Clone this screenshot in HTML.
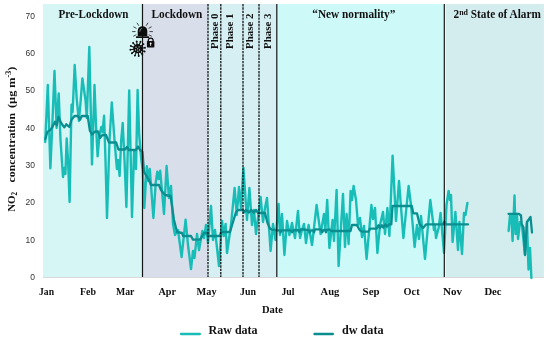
<!DOCTYPE html>
<html lang="en">
<head>
<meta charset="utf-8">
<title>NO2 concentration 2020</title>
<style>
html,body{margin:0;padding:0;background:#fff;}
body{width:550px;height:341px;overflow:hidden;}
svg{display:block;}
.sb{font-family:"Liberation Serif",serif;font-weight:bold;fill:#111;}
.tk{font-family:"Liberation Sans",sans-serif;font-size:9.3px;fill:#333;}
</style>
</head>
<body>
<svg width="550" height="341" viewBox="0 0 550 341">
<rect x="0" y="0" width="550" height="341" fill="#ffffff"/>
<rect x="43" y="4" width="99.5" height="273.4" fill="#d6f6f6"/>
<rect x="142.5" y="4" width="65.5" height="273.4" fill="#d9dfea"/>
<rect x="208" y="4" width="68.8" height="273.4" fill="#d5eff3"/>
<rect x="276.8" y="4" width="167.5" height="273.4" fill="#cdfaf9"/>
<rect x="445.6" y="4" width="98.3" height="273.4" fill="#d3edee"/>
<line x1="43" y1="277.5" x2="544" y2="277.5" stroke="#d9d9d9" stroke-width="1"/>
<g fill="none" stroke-linejoin="round" stroke-linecap="round">
<polyline stroke="#18bdb7" stroke-width="2.4" points="45.2,142.0 47.8,85.0 50.4,168.4 52.5,120.0 54.5,71.0 56.6,128.0 58.7,93.5 60.5,140.0 63.0,177.0 64.2,168.0 65.4,174.0 66.7,138.5 68.0,160.0 69.6,202.0 71.5,104.7 72.6,112.0 74.7,65.0 76.8,100.0 78.9,121.0 80.4,104.0 82.4,78.4 85.5,100.0 86.8,118.0 89.3,47.0 92.0,164.4 94.5,85.0 96.0,125.0 97.6,156.4 99.5,135.0 101.3,127.0 102.5,132.0 104.1,115.8 105.5,160.0 107.0,218.0 109.5,140.0 111.8,102.5 114.5,140.0 116.9,169.0 118.0,160.0 119.6,176.0 121.2,140.0 122.7,123.0 124.5,160.0 126.4,207.0 129.2,90.5 132.0,217.0 134.0,152.0 136.0,169.0 137.6,90.0 139.2,135.0 141.2,159.0 142.9,171.0 144.3,208.0 146.8,166.3 148.3,181.0 149.8,169.0 153.4,218.0 155.8,182.0 157.3,171.7 158.7,179.0 160.2,170.8 164.0,214.0 166.6,166.0 169.0,198.0 171.0,186.0 173.0,224.0 175.0,235.0 178.0,230.0 181.6,257.0 185.6,219.6 188.0,245.0 191.0,269.0 193.0,251.0 194.5,258.0 197.0,234.0 199.0,250.0 202.4,231.0 204.0,238.0 206.0,225.0 208.0,243.0 211.0,206.0 213.0,240.0 215.0,230.0 219.0,266.0 222.0,221.0 223.8,236.0 225.6,224.0 227.0,253.0 231.0,225.0 234.6,188.0 236.8,215.0 239.0,187.0 241.0,208.0 243.4,168.0 247.0,220.0 249.4,188.0 252.0,225.0 254.0,210.0 256.0,234.0 260.6,197.0 263.0,222.0 265.0,208.0 267.0,198.0 270.6,251.0 273.0,224.0 275.5,240.0 278.6,204.0 280.0,235.0 282.0,214.0 284.4,255.0 287.0,221.0 289.4,235.0 292.0,223.0 295.0,238.0 298.0,211.0 300.0,238.0 302.0,230.0 304.0,224.0 306.0,243.0 308.6,225.0 312.0,245.0 314.0,228.0 316.6,205.0 320.6,234.0 324.0,214.0 325.4,230.0 327.2,200.0 329.4,248.0 332.6,220.0 334.0,241.0 336.6,190.0 338.6,266.0 343.0,194.0 345.0,247.0 346.6,214.0 348.6,244.0 350.6,191.0 352.0,200.0 353.6,186.0 356.0,200.0 358.0,225.0 360.0,218.0 362.0,237.0 364.0,226.0 366.6,259.0 371.4,205.0 373.0,219.0 375.0,208.0 377.4,253.0 380.0,225.0 383.0,212.0 385.0,234.0 387.4,208.0 389.4,236.0 392.6,155.6 396.0,221.0 399.0,181.0 403.4,238.0 408.6,186.0 411.0,205.0 414.6,247.0 417.0,225.0 419.0,239.0 421.0,216.0 425.0,259.0 430.3,200.0 434.0,230.0 435.0,226.0 436.0,238.0 438.6,228.0 440.6,213.0 444.0,253.0 446.5,205.0 448.6,191.0 450.0,200.0 451.0,195.0 452.6,242.0 455.4,212.0 458.0,250.0 459.4,222.0 462.0,254.0 464.0,213.0 465.5,215.0 467.4,203.0"/>
<polyline stroke="#18bdb7" stroke-width="2.4" points="508.6,231.0 510.0,215.0 511.2,214.0 512.6,241.0 514.5,195.5 515.6,234.0 517.0,214.0 518.0,239.0 520.0,222.0 522.0,226.0 525.0,255.0 527.0,222.0 528.5,269.5 530.0,248.0 531.4,278.0"/>
<polyline stroke="#0a8e8f" stroke-width="2.3" points="45.4,139.0 47.4,131.8 49.7,130.6 52.0,127.6 55.0,121.8 56.8,125.3 58.4,117.0 61.3,123.3 64.3,127.4 66.3,124.3 69.3,127.0 71.5,119.8 74.5,116.0 78.0,116.0 80.0,119.8 81.8,116.0 87.7,116.0 89.9,130.8 92.0,134.5 95.0,131.5 98.0,131.5 100.0,138.0 102.3,135.0 106.0,135.0 109.0,142.5 116.2,142.5 118.4,149.5 125.0,149.5 127.0,147.0 129.0,150.0 136.0,150.0 138.0,146.5 140.0,150.0 142.5,152.0 144.0,172.0 149.0,180.0 151.0,185.0 159.0,185.0 161.0,190.0 165.0,195.0 170.6,196.0 174.0,220.0 177.0,232.0 182.0,233.0 183.0,236.0 191.0,236.0 193.0,239.6 200.0,239.6 204.0,233.0 207.0,233.0 208.0,236.0 220.0,236.0 221.0,232.0 230.0,232.0 233.0,222.0 236.0,212.0 238.0,210.0 243.0,210.0 244.0,212.5 246.0,210.0 249.0,212.5 251.0,210.0 254.0,212.5 256.0,210.0 258.0,213.0 265.0,213.0 267.5,223.0 270.0,228.6 272.0,229.6 275.0,230.0 277.0,230.4 280.0,230.4 280.4,232.3 281.6,230.4 291.0,230.4 292.0,232.3 293.0,230.4 298.0,230.0 299.3,232.3 300.5,229.5 304.0,229.5 309.0,230.4 309.7,232.3 311.0,230.4 313.0,230.4 314.0,232.3 315.0,229.4 321.0,229.4 322.0,232.3 323.5,230.0 325.0,230.0 326.0,232.3 327.0,229.6 330.0,229.6 331.0,231.0 350.5,231.0 352.0,225.0 356.8,225.0 359.8,230.2 362.0,231.6 368.6,231.6 370.0,228.7 376.6,228.7 378.4,225.2 379.9,228.0 381.8,225.2 383.3,227.6 385.4,224.4 386.9,226.6 389.0,224.4 391.3,224.4 392.5,206.0 411.8,206.0 413.3,213.3 417.0,213.3 419.5,224.0 423.0,228.0 426.0,224.4 443.0,224.4 444.5,221.5 446.0,224.4 468.0,224.4"/>
<polyline stroke="#0a8e8f" stroke-width="2.3" points="508.5,213.8 519.0,213.8 521.0,215.5 521.7,224.0 523.5,227.5 525.0,255.0 527.0,222.0 530.5,217.0 532.0,232.5"/>
</g>
<line x1="142.5" y1="4" x2="142.5" y2="277" stroke="#141414" stroke-width="1.2"/>
<line x1="276.8" y1="4" x2="276.8" y2="277" stroke="#141414" stroke-width="1.2"/>
<line x1="444.3" y1="4" x2="444.3" y2="277" stroke="#141414" stroke-width="1.2"/>
<line x1="208.0" y1="4" x2="208.0" y2="277" stroke="#141414" stroke-width="1.3" stroke-dasharray="2.4 0.95"/>
<line x1="220.8" y1="4" x2="220.8" y2="277" stroke="#141414" stroke-width="1.3" stroke-dasharray="2.4 0.95"/>
<line x1="243.0" y1="4" x2="243.0" y2="277" stroke="#141414" stroke-width="1.3" stroke-dasharray="2.4 0.95"/>
<line x1="259.0" y1="4" x2="259.0" y2="277" stroke="#141414" stroke-width="1.3" stroke-dasharray="2.4 0.95"/>
<text class="tk" x="30.3" y="279.9" textLength="4.7" lengthAdjust="spacingAndGlyphs">0</text>
<text class="tk" x="25.6" y="242.6" textLength="9.4" lengthAdjust="spacingAndGlyphs">10</text>
<text class="tk" x="25.6" y="205.2" textLength="9.4" lengthAdjust="spacingAndGlyphs">20</text>
<text class="tk" x="25.6" y="167.9" textLength="9.4" lengthAdjust="spacingAndGlyphs">30</text>
<text class="tk" x="25.6" y="130.5" textLength="9.4" lengthAdjust="spacingAndGlyphs">40</text>
<text class="tk" x="25.6" y="93.2" textLength="9.4" lengthAdjust="spacingAndGlyphs">50</text>
<text class="tk" x="25.6" y="55.8" textLength="9.4" lengthAdjust="spacingAndGlyphs">60</text>
<text class="tk" x="25.6" y="18.5" textLength="9.4" lengthAdjust="spacingAndGlyphs">70</text>
<text class="sb" font-size="10.2" x="39.0" y="295" textLength="15.0" lengthAdjust="spacingAndGlyphs">Jan</text>
<text class="sb" font-size="10.2" x="80.0" y="295" textLength="16.0" lengthAdjust="spacingAndGlyphs">Feb</text>
<text class="sb" font-size="10.2" x="116.0" y="295" textLength="18.4" lengthAdjust="spacingAndGlyphs">Mar</text>
<text class="sb" font-size="10.2" x="158.4" y="295" textLength="17.6" lengthAdjust="spacingAndGlyphs">Apr</text>
<text class="sb" font-size="10.2" x="196.6" y="295" textLength="20.0" lengthAdjust="spacingAndGlyphs">May</text>
<text class="sb" font-size="10.2" x="240.0" y="295" textLength="16.0" lengthAdjust="spacingAndGlyphs">Jun</text>
<text class="sb" font-size="10.2" x="281.4" y="295" textLength="13.0" lengthAdjust="spacingAndGlyphs">Jul</text>
<text class="sb" font-size="10.2" x="320.6" y="295" textLength="18.8" lengthAdjust="spacingAndGlyphs">Aug</text>
<text class="sb" font-size="10.2" x="362.6" y="295" textLength="17.0" lengthAdjust="spacingAndGlyphs">Sep</text>
<text class="sb" font-size="10.2" x="403.6" y="295" textLength="16.0" lengthAdjust="spacingAndGlyphs">Oct</text>
<text class="sb" font-size="10.2" x="443.0" y="295" textLength="19.0" lengthAdjust="spacingAndGlyphs">Nov</text>
<text class="sb" font-size="10.2" x="484.4" y="295" textLength="17.2" lengthAdjust="spacingAndGlyphs">Dec</text>
<text class="sb" font-size="10.6" x="262" y="313.4" textLength="21" lengthAdjust="spacingAndGlyphs">Date</text>
<text class="sb" font-size="11.7" x="58.4" y="18.1" textLength="70" lengthAdjust="spacingAndGlyphs">Pre-Lockdown</text>
<text class="sb" font-size="11.7" x="151.5" y="17.9" textLength="50.9" lengthAdjust="spacingAndGlyphs">Lockdown</text>
<text class="sb" font-size="11.7" x="312.3" y="18.1" textLength="83.1" lengthAdjust="spacingAndGlyphs">“New normality”</text>
<text class="sb" font-size="11.7" x="453.6" y="18" textLength="87.2" lengthAdjust="spacingAndGlyphs">2<tspan font-size="8.2" dy="-3.4">nd</tspan><tspan dy="3.4"> State of Alarm</tspan></text>
<text class="sb" font-size="11.2" transform="translate(218.2,49) rotate(-90)" textLength="35.4" lengthAdjust="spacingAndGlyphs">Phase 0</text>
<text class="sb" font-size="11.2" transform="translate(233.0,49) rotate(-90)" textLength="35.4" lengthAdjust="spacingAndGlyphs">Phase 1</text>
<text class="sb" font-size="11.2" transform="translate(253.4,49) rotate(-90)" textLength="35.4" lengthAdjust="spacingAndGlyphs">Phase 2</text>
<text class="sb" font-size="11.2" transform="translate(270.8,49) rotate(-90)" textLength="35.4" lengthAdjust="spacingAndGlyphs">Phase 3</text>
<text class="sb" font-size="11.2" transform="translate(14.6,211.8) rotate(-90)" textLength="20" lengthAdjust="spacingAndGlyphs">NO<tspan font-size="7.4" dy="2.4">2</tspan></text>
<text class="sb" font-size="11.2" transform="translate(14.6,182.5) rotate(-90)" textLength="69.5" lengthAdjust="spacingAndGlyphs">concentration</text>
<text class="sb" font-size="11.2" transform="translate(14.6,108) rotate(-90)" textLength="41.4" lengthAdjust="spacingAndGlyphs">(µg m<tspan font-size="7.4" dy="-3.8">-3</tspan><tspan dy="3.8">)</tspan></text>
<line x1="181" y1="334" x2="199.9" y2="334" stroke="#18bdb7" stroke-width="2.3" stroke-linecap="round"/>
<text class="sb" font-size="11.6" x="208.6" y="333.6" textLength="49" lengthAdjust="spacingAndGlyphs">Raw data</text>
<line x1="314.4" y1="334" x2="332.9" y2="334" stroke="#0a8e8f" stroke-width="2.3" stroke-linecap="round"/>
<text class="sb" font-size="11.6" x="342" y="333.6" textLength="41.6" lengthAdjust="spacingAndGlyphs">dw data</text>
<g id="icons">
<path d="M137.7 35.9 V31 A4.8 4.8 0 0 1 147.3 31 V35.9 Z" fill="#0d0d0d"/>
<path d="M139.7 31.3 A2.8 2.8 0 0 1 141.6 28.5" fill="none" stroke="#cfd6da" stroke-width="0.6" stroke-linecap="round"/>
<rect x="136" y="36.3" width="13.1" height="1.6" rx="0.5" fill="#0d0d0d"/>
<line x1="135.2" y1="31.6" x2="132.5" y2="31.6" stroke="#1a1a1a" stroke-width="0.8" stroke-linecap="round"/>
<line x1="136.1" y1="28.2" x2="133.7" y2="26.9" stroke="#1a1a1a" stroke-width="0.8" stroke-linecap="round"/>
<line x1="138.6" y1="25.4" x2="137.2" y2="23.1" stroke="#1a1a1a" stroke-width="0.8" stroke-linecap="round"/>
<line x1="146.4" y1="25.4" x2="147.8" y2="23.1" stroke="#1a1a1a" stroke-width="0.8" stroke-linecap="round"/>
<line x1="148.9" y1="28.2" x2="151.3" y2="26.9" stroke="#1a1a1a" stroke-width="0.8" stroke-linecap="round"/>
<line x1="149.8" y1="31.6" x2="152.5" y2="31.6" stroke="#1a1a1a" stroke-width="0.8" stroke-linecap="round"/>
<line x1="136.0" y1="34.9" x2="133.6" y2="36.1" stroke="#1a1a1a" stroke-width="0.8" stroke-linecap="round"/>
<line x1="149.0" y1="34.9" x2="151.4" y2="36.1" stroke="#1a1a1a" stroke-width="0.8" stroke-linecap="round"/>
<path d="M148.3 41.8 V40.4 A2.4 2.4 0 0 1 153.1 40.4 V41.8" fill="none" stroke="#0d0d0d" stroke-width="1.25"/>
<rect x="146.9" y="40.9" width="7.5" height="6.5" rx="0.9" fill="#0d0d0d"/>
<circle cx="150.65" cy="43.3" r="0.9" fill="#fff"/><rect x="150.2" y="43.5" width="0.9" height="2.3" fill="#fff"/>
<circle cx="137.7" cy="48.7" r="4.6" fill="#0d0d0d"/>
<line x1="141.7" y1="48.1" x2="145.0" y2="47.7" stroke="#0d0d0d" stroke-width="1.1"/>
<circle cx="145.0" cy="47.7" r="0.95" fill="#0d0d0d"/>
<line x1="140.9" y1="46.2" x2="143.5" y2="44.1" stroke="#0d0d0d" stroke-width="1.1"/>
<circle cx="143.5" cy="44.1" r="0.95" fill="#0d0d0d"/>
<line x1="139.2" y1="45.0" x2="140.5" y2="41.8" stroke="#0d0d0d" stroke-width="1.1"/>
<circle cx="140.5" cy="41.8" r="0.95" fill="#0d0d0d"/>
<line x1="137.1" y1="44.7" x2="136.7" y2="41.4" stroke="#0d0d0d" stroke-width="1.1"/>
<circle cx="136.7" cy="41.4" r="0.95" fill="#0d0d0d"/>
<line x1="135.2" y1="45.5" x2="133.1" y2="42.9" stroke="#0d0d0d" stroke-width="1.1"/>
<circle cx="133.1" cy="42.9" r="0.95" fill="#0d0d0d"/>
<line x1="134.0" y1="47.2" x2="130.8" y2="45.9" stroke="#0d0d0d" stroke-width="1.1"/>
<circle cx="130.8" cy="45.9" r="0.95" fill="#0d0d0d"/>
<line x1="133.7" y1="49.3" x2="130.4" y2="49.7" stroke="#0d0d0d" stroke-width="1.1"/>
<circle cx="130.4" cy="49.7" r="0.95" fill="#0d0d0d"/>
<line x1="134.5" y1="51.2" x2="131.9" y2="53.3" stroke="#0d0d0d" stroke-width="1.1"/>
<circle cx="131.9" cy="53.3" r="0.95" fill="#0d0d0d"/>
<line x1="136.2" y1="52.4" x2="134.9" y2="55.6" stroke="#0d0d0d" stroke-width="1.1"/>
<circle cx="134.9" cy="55.6" r="0.95" fill="#0d0d0d"/>
<line x1="138.3" y1="52.7" x2="138.7" y2="56.0" stroke="#0d0d0d" stroke-width="1.1"/>
<circle cx="138.7" cy="56.0" r="0.95" fill="#0d0d0d"/>
<line x1="140.2" y1="51.9" x2="142.3" y2="54.5" stroke="#0d0d0d" stroke-width="1.1"/>
<circle cx="142.3" cy="54.5" r="0.95" fill="#0d0d0d"/>
<line x1="141.4" y1="50.2" x2="144.6" y2="51.5" stroke="#0d0d0d" stroke-width="1.1"/>
<circle cx="144.6" cy="51.5" r="0.95" fill="#0d0d0d"/>
<circle cx="136.0" cy="47.2" r="0.6" fill="#dfe9ee"/>
<circle cx="139.1" cy="46.8" r="0.6" fill="#dfe9ee"/>
<circle cx="137.7" cy="48.8" r="0.6" fill="#dfe9ee"/>
<circle cx="135.6" cy="49.9" r="0.6" fill="#dfe9ee"/>
<circle cx="139.6" cy="49.9" r="0.6" fill="#dfe9ee"/>
<circle cx="137.8" cy="51.2" r="0.6" fill="#dfe9ee"/>
</g>
</svg>
</body>
</html>
